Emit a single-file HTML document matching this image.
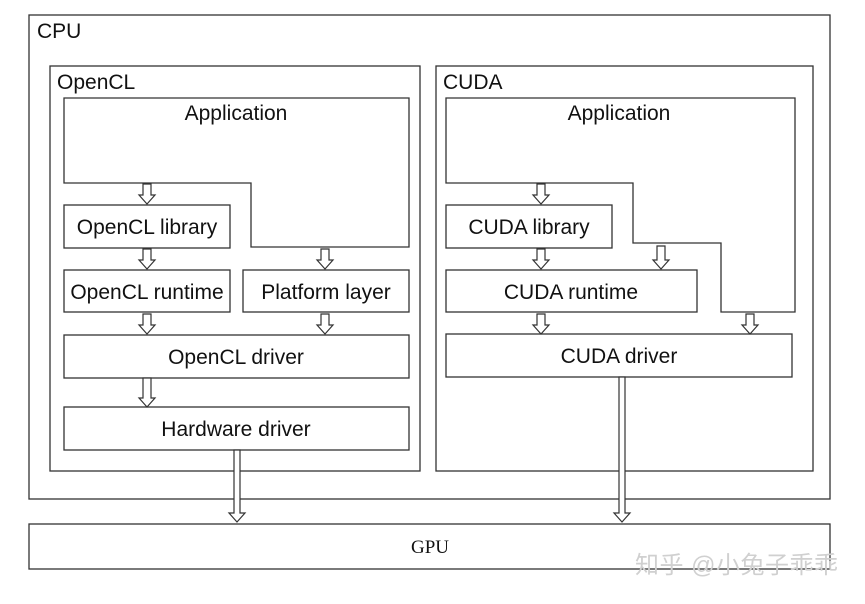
<!DOCTYPE html>
<html><head><meta charset="utf-8"><style>
body{margin:0;background:#fff}
svg text{font-family:"Liberation Sans","DejaVu Sans",sans-serif;font-size:21px;fill:#111}
</style></head><body>
<svg width="865" height="599" viewBox="0 0 865 599" xmlns="http://www.w3.org/2000/svg">
<g fill="none" stroke="#333" stroke-width="1.3">
<rect x="29" y="15" width="801" height="484"/>
<rect x="50" y="66" width="370" height="405"/>
<rect x="436" y="66" width="377" height="405"/>
<polygon points="64,98 409,98 409,247 251,247 251,183 64,183"/>
<rect x="64" y="205" width="166" height="43"/>
<rect x="64" y="270" width="166" height="42"/>
<rect x="243" y="270" width="166" height="42"/>
<rect x="64" y="335" width="345" height="43"/>
<rect x="64" y="407" width="345" height="43"/>
<polygon points="446,98 795,98 795,312 721,312 721,243 633,243 633,183 446,183"/>
<rect x="446" y="205" width="166" height="43"/>
<rect x="446" y="270" width="251" height="42"/>
<rect x="446" y="334" width="346" height="43"/>
<rect x="29" y="524" width="801" height="45"/>
</g>
<g fill="#fff" stroke="#333" stroke-width="1.2">
<polygon points="143,184 151,184 151,195 155,195 147,204 139,195 143,195"/>
<polygon points="143,249 151,249 151,260 155,260 147,269 139,260 143,260"/>
<polygon points="321,249 329,249 329,260 333,260 325,269 317,260 321,260"/>
<polygon points="143,314 151,314 151,325 155,325 147,334 139,325 143,325"/>
<polygon points="321,314 329,314 329,325 333,325 325,334 317,325 321,325"/>
<polygon points="143,378 151,378 151,398 155,398 147,407 139,398 143,398"/>
<polygon points="234,450 240,450 240,513 245,513 237,522 229,513 234,513"/>
<polygon points="537,184 545,184 545,195 549,195 541,204 533,195 537,195"/>
<polygon points="537,249 545,249 545,260 549,260 541,269 533,260 537,260"/>
<polygon points="657,246 665,246 665,260 669,260 661,269 653,260 657,260"/>
<polygon points="537,314 545,314 545,325 549,325 541,334 533,325 537,325"/>
<polygon points="746,314 754,314 754,325 758,325 750,334 742,325 746,325"/>
<polygon points="619,377 625,377 625,513 630,513 622,522 614,513 619,513"/>
</g>
<text x="37" y="38">CPU</text>
<text x="57" y="89">OpenCL</text>
<text x="443" y="89">CUDA</text>
<g text-anchor="middle">
<text x="236" y="120">Application</text>
<text x="147" y="234">OpenCL library</text>
<text x="147" y="299">OpenCL runtime</text>
<text x="326" y="299">Platform layer</text>
<text x="236" y="364">OpenCL driver</text>
<text x="236" y="436">Hardware driver</text>
<text x="619" y="120">Application</text>
<text x="529" y="234">CUDA library</text>
<text x="571" y="299">CUDA runtime</text>
<text x="619" y="363">CUDA driver</text>
<text x="430" y="553" style="font-family:'Liberation Serif',serif;font-size:19px">GPU</text>
</g>
<text x="635" y="573" style="font-family:'Liberation Sans','Noto Sans CJK SC',sans-serif;font-size:24px;letter-spacing:0.5px;fill:#d0d0d0">知乎 @小兔子乖乖</text>
</svg>
</body></html>
